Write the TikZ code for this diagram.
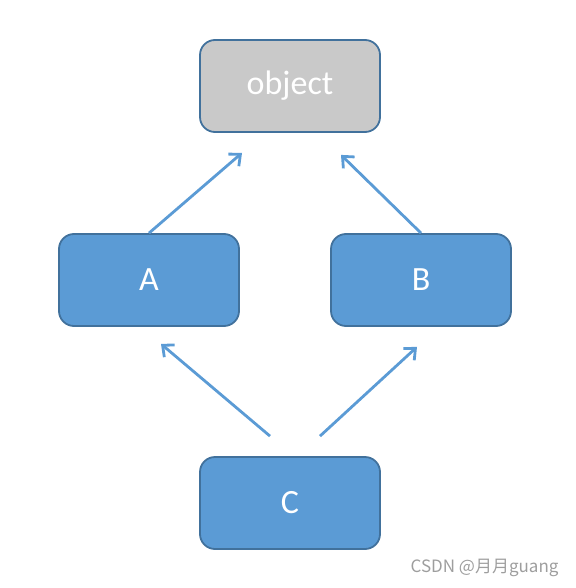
\documentclass[tikz,border=0pt]{standalone}
\usepackage{fontspec}
\setmainfont{Carlito}
\newfontfamily\cjkfont{Noto Sans CJK SC}
\usetikzlibrary{arrows.meta,positioning}

\definecolor{boxfill}{HTML}{5B9BD5}
\definecolor{boxline}{HTML}{41719C}
\definecolor{objfill}{HTML}{C9C9C9}

\begin{document}
\begin{tikzpicture}[
	x=1pt, y=-1pt,
	every node/.style = {align=center},
	Box/.style = {draw=boxline, line width=1.8pt, fill=#1, rounded corners=15pt,
		minimum width=180pt, minimum height=92pt, text=white,
		font=\fontsize{34}{40}\selectfont},
	Box/.default = boxfill,
	Line/.style = {draw=boxfill, line width=2.8pt, -{Straight Barb[length=9pt,width=16pt]}},
	ys/.style = {yshift=#1}
]
\useasboundingbox (0,0) rectangle (575,588);
\node[Box=objfill] (obj) at (290,86)  {object};
\node[Box]         (A)   at (149,280) {A};
\node[Box]         (B)   at (421,280) {B};
\node[Box]         (C)   at (290,503) {C};

\draw[Line] (A.north) -- ([xshift=-48pt,ys=-20pt] obj.south);
\draw[Line] (B.north) -- ([xshift=51pt,ys=-22pt]  obj.south);
\draw[Line] ([xshift=-20pt,ys=20pt] C.north) -- ([xshift=12pt,ys=-17pt] A.south);
\draw[Line] ([xshift=30pt,ys=20pt]  C.north) -- ([xshift=-4pt,ys=-20pt] B.south);

\node[anchor=east, text=black!38, font=\cjkfont\fontsize{17}{20}\selectfont]
	(mark) at (562,568) {CSDN @月月guang};
\end{tikzpicture}
\end{document}
